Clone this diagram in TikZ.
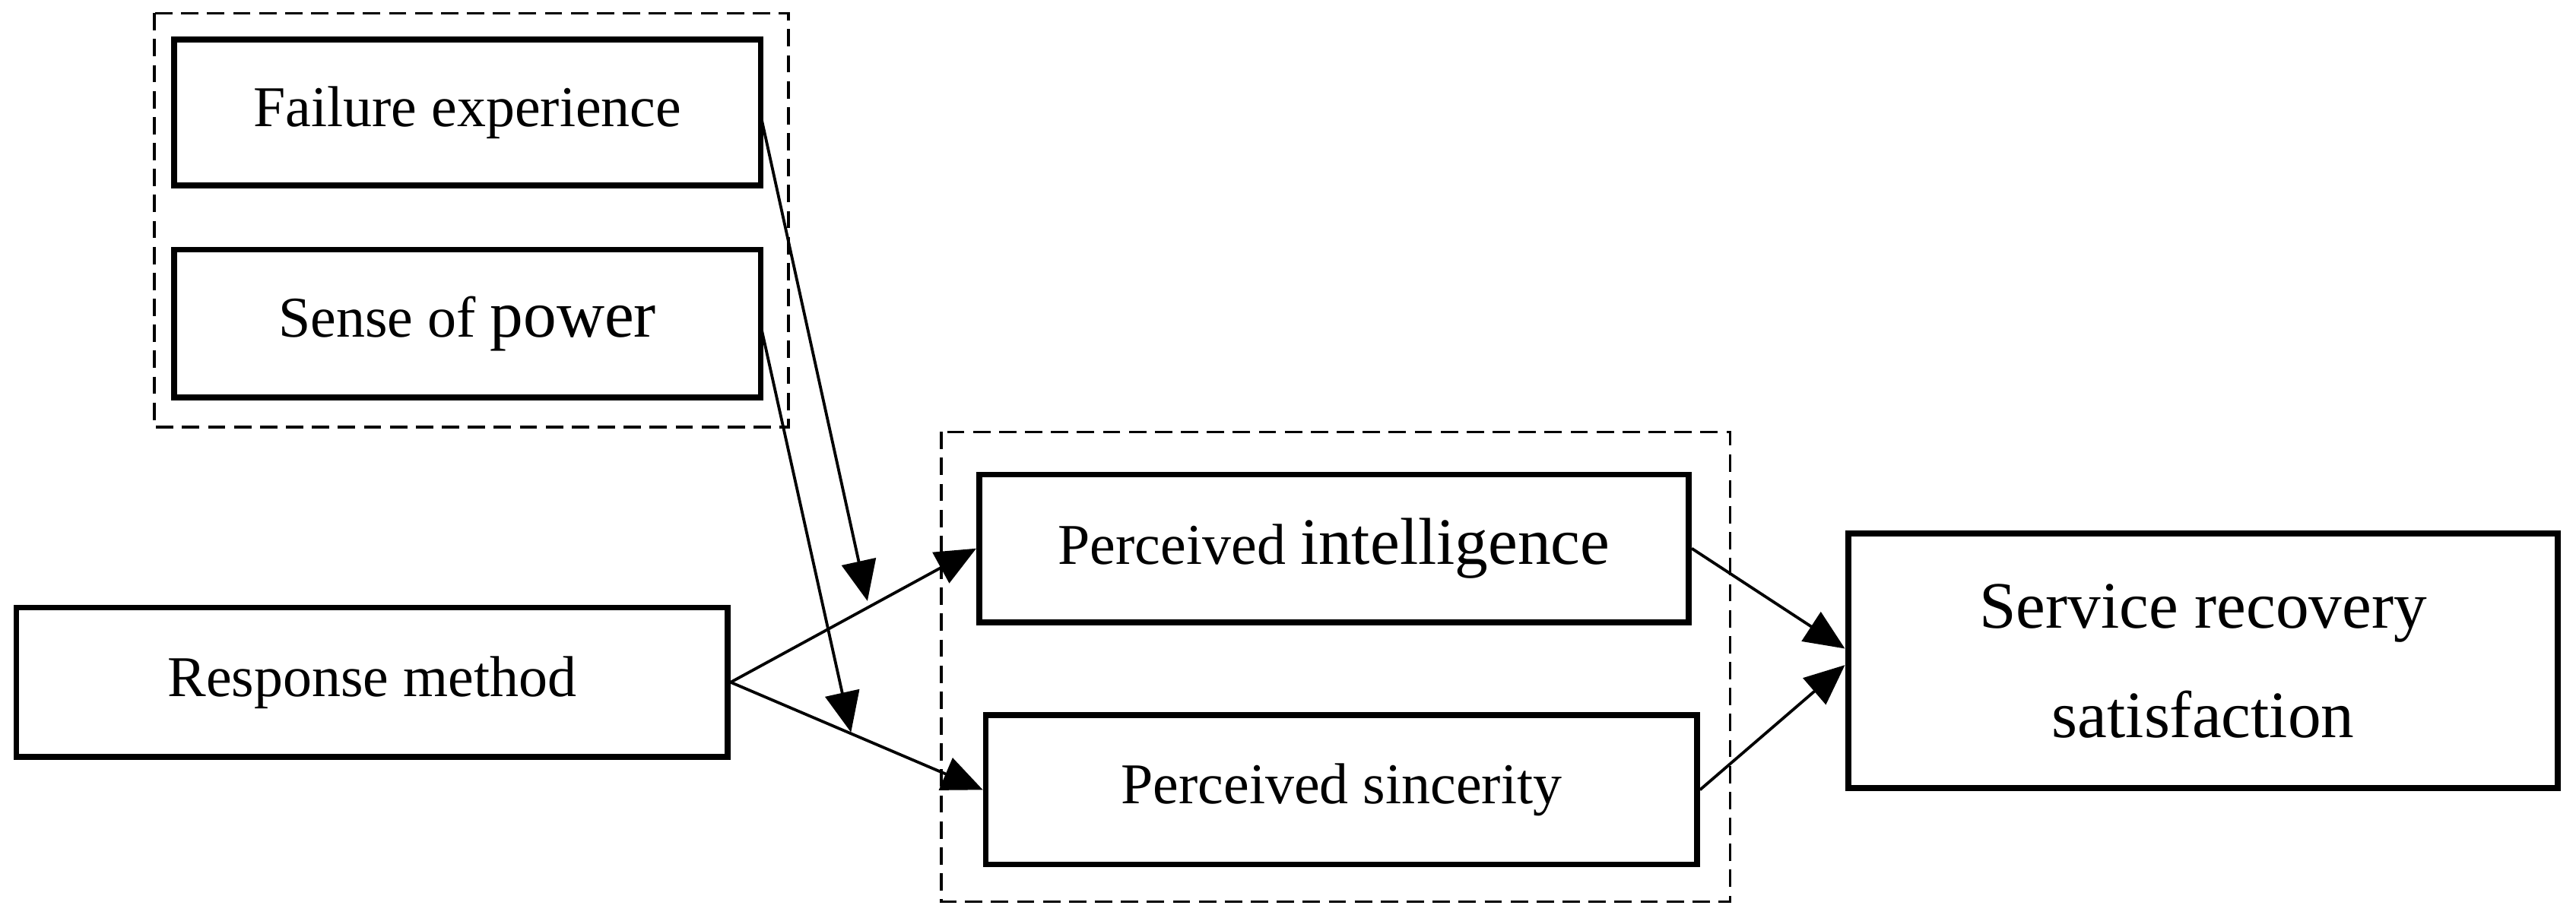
\documentclass[tikz,border=0pt]{standalone}
\usepackage{fontspec}
\setmainfont{Liberation Serif}
\usetikzlibrary{arrows.meta}
\begin{document}
\begin{tikzpicture}[x=0.02cm,y=-0.02cm,
  box/.style={draw,line width=2pt,inner sep=0pt,font=\fontsize{20}{24}\selectfont,align=center},
  dbox/.style={draw,dash pattern=on 6pt off 3pt,line width=0.9pt},
  arr/.style={line width=1pt,-{Triangle[length=14pt,width=12pt]}}]
\useasboundingbox (0,0) rectangle (1568,559);
\draw[dbox] (94,8) rectangle (480,260);
\draw[dbox] (573,263) rectangle (1053,549);
\node[box,minimum width=357*0.02cm,minimum height=89*0.02cm] (fe) at (284.5,68.5) {Failure experience};
\node[box,minimum width=357*0.02cm,minimum height=90*0.02cm] (sp) at (284.5,197) {Sense of {\fontsize{23}{24}\selectfont power}};
\node[box,minimum width=433*0.02cm,minimum height=91*0.02cm] (rm) at (226.5,415.5) {Response method};
\node[box,minimum width=432*0.02cm,minimum height=90*0.02cm] (pi) at (812,334) {Perceived {\fontsize{23}{24}\selectfont intelligence}};
\node[box,minimum width=433*0.02cm,minimum height=91*0.02cm] (ps) at (816.5,481) {Perceived sincerity};
\node[box,minimum width=432*0.02cm,minimum height=155*0.02cm] (sr) at (1341,402.5) {\fontsize{23}{28}\selectfont Service recovery\\[14pt]\fontsize{23}{28}\selectfont satisfaction};
\coordinate (m1) at (528,366);
\coordinate (m2) at (518,446);
\coordinate (a1) at (463,70);
\coordinate (a2) at (463,198);
\draw[arr] (rm.east) -- (pi.west);
\draw[arr] (rm.east) -- (ps.west);
\draw[arr] (a1) -- (m1);
\draw[arr] (a2) -- (m2);
\draw[arr] (pi.east) -- (1123,395);
\draw[arr] (ps.east) -- (1123,405);
\end{tikzpicture}
\end{document}
